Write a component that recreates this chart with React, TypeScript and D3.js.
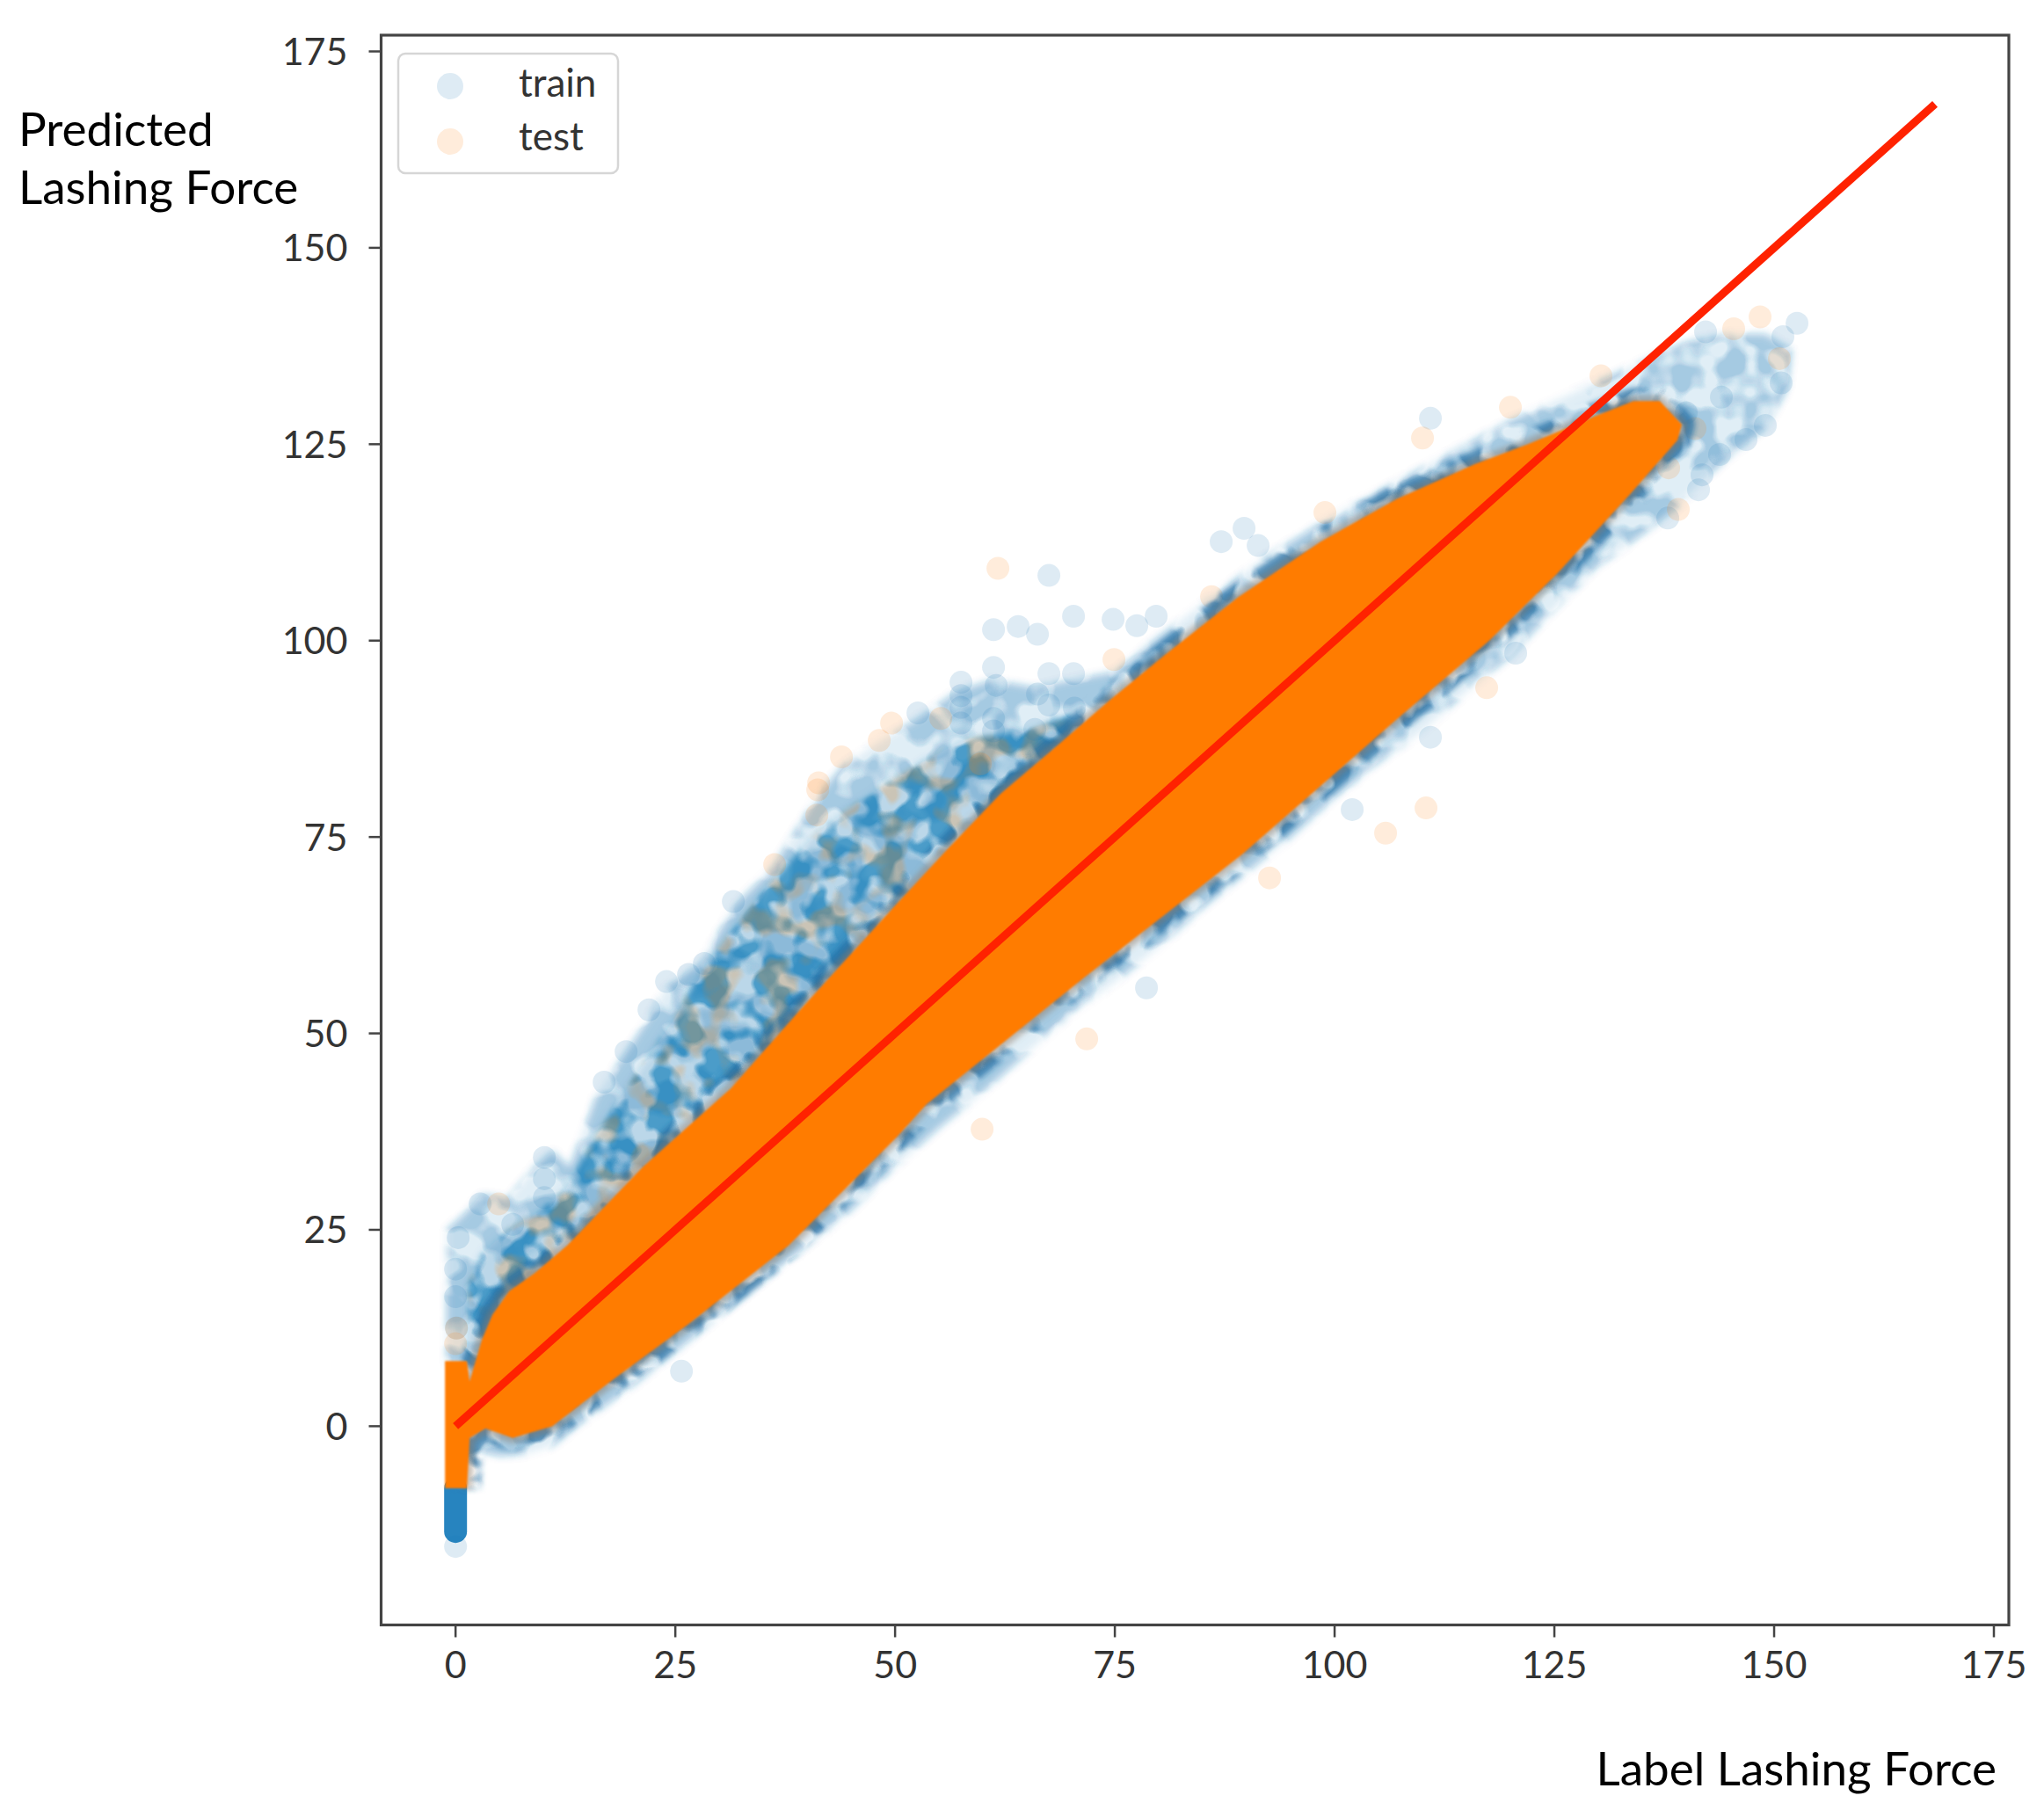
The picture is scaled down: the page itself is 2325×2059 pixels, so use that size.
import React from 'react';
import * as d3 from 'd3';

type Pt = [number, number];

const xTicks = [0, 25, 50, 75, 100, 125, 150, 175];
const yTicks = [0, 25, 50, 75, 100, 125, 150, 175];

// identity line drawn over the scatter
const fitLine: Pt[] = [[0, 0], [168.3, 168.3]];

// solid orange core of the cloud (outline)
const coreOutline: Pt[] = [
  [-1.2, -7.9], [-1.2, 8.3], [1.3, 8.3], [1.6, 5.7], [3, 11], [4.2, 14.2], [6.1, 17.2],
  [9, 19.5], [12.7, 23], [21.3, 33], [31.3, 43], [39.6, 53.5], [50.2, 66.5], [56, 73.5],
  [62, 80.5], [67.8, 86], [74.5, 92.5], [80.5, 98], [89, 105.5], [98.4, 112.6], [107, 118],
  [116, 122.5], [122, 125], [129.5, 128.5], [134, 130.5], [137, 130.5], [139.5, 127.5],
  [139, 125.5], [133.5, 118.5], [125.3, 108.5], [117.6, 100], [107.3, 90.2], [89.5, 72.8],
  [71.4, 57], [53.6, 41], [50.2, 36.8], [37.9, 23], [26.5, 13], [18, 6], [11, 0],
  [6.5, -1.5], [3.4, -0.3], [1.6, -1.5], [1.3, -7.9],
];

// outer envelope of the translucent train/test scatter
const fringeOutline: Pt[] = [
  [-1, 25], [1, 27], [3, 29.5], [6, 29], [9, 33], [11, 35], [13, 33], [16, 42], [19, 47],
  [22, 52], [24, 56], [28, 59], [31.5, 66], [36, 71], [41, 80], [44, 84], [48, 87],
  [52.5, 90], [57, 93.5], [61, 95], [66, 94], [70, 95], [75, 96], [80, 100.5], [86, 105.5],
  [92, 110.5], [100, 116], [105, 119], [110, 122], [115, 125], [120, 128], [125, 130.5],
  [130, 133], [135, 135.5], [140, 138], [145, 139], [149, 139], [152, 137], [151.5, 132],
  [149, 127], [145.5, 124], [142, 120.5], [139, 117], [135, 113.5], [130, 109.5],
  [125, 104], [120, 98], [115, 93.5], [110, 88.5], [105, 84.5], [100, 80], [95, 75],
  [90, 70.5], [85, 66], [80, 61], [75, 56.5], [70, 52.5], [65, 47.5], [60, 42.5],
  [55, 38], [50, 33], [45, 27.5], [40, 23], [35, 18.5], [30, 14], [25, 9.5], [20, 5],
  [15, 1], [11, -2.5], [8, -3.5], [5, -3.8], [2.5, -3.2], [1.3, -3], [1.2, 8], [-1, 8],
];

// denser blue plume above the core at low label values
const plumeOutline: Pt[] = [
  [1.5, 8], [3, 11], [4.2, 14.2], [6.1, 17.2], [9, 19.5], [12.7, 23], [21.3, 33],
  [31.3, 43], [39.6, 53.5], [50.2, 66.5], [56, 73.5], [62, 80.5], [67.8, 86], [70, 88.5],
  [70, 90.5], [66, 89], [62, 88], [58, 87.5], [53, 84.5], [48, 81], [44, 78],
  [41, 75.5], [35, 68], [31.3, 62.8], [28, 58], [24.7, 51.6], [21, 45.5], [18, 40.5],
  [15, 35], [12.4, 30], [9, 27], [6, 25], [3, 22], [1.5, 18],
];

// dense train points below the x = 0 column
const stripTrain: Pt[] = [[0, -13.4], [0, -7.9]];

const trainOutliers: Pt[] = [
  [0, -15.3], [2.8, 28.3], [10.1, 34.2], [10.1, 31.5], [10.1, 29.1], [0.3, 24], [6.5, 25.7],
  [0.1, 12.5], [0, 16.5], [0, 20], [25.7, 7.0], [16.9, 43.8], [19.4, 47.7], [24.0, 56.6],
  [28.3, 58.9], [31.6, 66.8], [22, 53], [26.5, 57.5], [67.5, 108.3], [70.3, 103.1],
  [74.8, 102.7], [61.2, 101.4], [64.0, 101.8], [66.2, 100.8], [61.2, 96.6], [61.5, 94.3],
  [57.5, 94.7], [57.5, 93], [57.5, 91.5], [57.5, 89.5], [52.6, 90.8], [61.2, 90.1],
  [61.2, 88.5], [67.5, 95.8], [70.3, 95.8], [66.2, 93.2], [67.5, 91.8], [70.4, 91.4],
  [65.9, 88.7], [77.5, 101.9], [79.7, 103.1], [87.1, 112.6], [89.7, 114.3], [91.3, 112.1],
  [110.9, 128.3], [110.9, 87.7], [102, 78.5], [78.6, 55.8], [120.6, 98.4], [152.6, 140.4],
  [151, 138.7], [150.8, 132.8], [149, 127.4], [146.8, 125.6], [143.8, 123.7], [141.8, 121.1],
  [141.4, 119.2], [137.9, 115.6], [142.2, 139.3], [144, 131], [140, 129], [136.5, 124],
];

const testOutliers: Pt[] = [
  [4.9, 28.3], [0.1, 12.5], [0, 10.5], [36.3, 71.5], [41.2, 81], [61.7, 109.2], [49.6, 89.5],
  [48.2, 87.3], [55.2, 90.1], [43.9, 85.2], [41.3, 81.9], [41.1, 77.8], [59.7, 84.3],
  [110, 125.8], [98.9, 116.3], [86, 105.6], [120, 129.7], [74.9, 97.6], [110.4, 78.7],
  [105.8, 75.5], [92.6, 69.8], [117.3, 94.0], [59.9, 37.8], [71.8, 49.3], [148.4, 141.2],
  [139.1, 116.7], [150.6, 135.9], [145.4, 139.7], [130.3, 133.7], [141, 127], [138, 122],
];

const BLUE = '#1f77b4';
const ORANGE = '#ff7f0e';
const FONT = 'Lato, "Open Sans", sans-serif';

const W = 2325;
const H = 2059;
const left = 433.5, right = 2285, top = 40, bottom = 1848.5;

// blotchy alpha mask, so a filled envelope reads like overlapping translucent dots
const Speckle: React.FC<{ id: string; freq: number; seed: number; blur: number; gain: number; bias: number }> =
  ({ id, freq, seed, blur, gain, bias }) => (
    <filter id={id} x="-5%" y="-5%" width="110%" height="110%">
      <feGaussianBlur in="SourceGraphic" stdDeviation={blur} result="soft" />
      <feTurbulence type="fractalNoise" baseFrequency={freq} numOctaves={2} seed={seed} result="noise" />
      <feColorMatrix in="noise" type="matrix"
        values={`0 0 0 0 0  0 0 0 0 0  0 0 0 0 0  ${gain} 0 0 0 ${bias}`} result="mask" />
      <feComposite in="soft" in2="mask" operator="in" />
    </filter>
  );

const App: React.FC = () => {
  const x = d3.scaleLinear().domain([-8.47, 176.7]).range([left, right]);
  const y = d3.scaleLinear().domain([-25.3, 177.07]).range([bottom, top]);

  const closed = d3.line<Pt>().x(d => x(d[0])).y(d => y(d[1])).curve(d3.curveLinearClosed);
  const line = d3.line<Pt>().x(d => x(d[0])).y(d => y(d[1]));
  const r = 13;

  const fringe = closed(fringeOutline) || '';
  const plume = closed(plumeOutline) || '';
  const core = closed(coreOutline) || '';
  // edge of the core without the x = 0 column
  const coreEdge = line(coreOutline.slice(3)) || '';

  return (
    <svg width={W} height={H} style={{ position: 'absolute', left: 0, top: 0, background: '#fff' }}>
      <defs>
        <clipPath id="plot">
          <rect x={left} y={top} width={right - left} height={bottom - top} />
        </clipPath>
        <Speckle id="spA" freq={0.03} seed={7} blur={4} gain={6} bias={-2.4} />
        <Speckle id="spB" freq={0.035} seed={21} blur={3} gain={6} bias={-2.6} />
        <Speckle id="spC" freq={0.03} seed={44} blur={3} gain={6} bias={-2.9} />
        <filter id="soft"><feGaussianBlur stdDeviation="5" /></filter>
        <filter id="edge"><feGaussianBlur stdDeviation="3" /></filter>
        <filter id="fine"><feGaussianBlur stdDeviation="1.2" /></filter>
      </defs>

      <g clipPath="url(#plot)">
        <path d={fringe} fill={BLUE} fillOpacity={0.12} filter="url(#soft)" />
        <path d={fringe} fill={BLUE} fillOpacity={0.3} filter="url(#spA)" />
        <path d={plume} fill={BLUE} fillOpacity={0.2} filter="url(#soft)" />
        <path d={plume} fill="#0a74b4" fillOpacity={0.6} filter="url(#spB)" />
        <path d={plume} fill={ORANGE} fillOpacity={0.22} filter="url(#spC)" />
        {trainOutliers.map((d, i) => (
          <circle key={'tr' + i} cx={x(d[0])} cy={y(d[1])} r={r} fill={BLUE} fillOpacity={0.15} />
        ))}
        {testOutliers.map((d, i) => (
          <circle key={'te' + i} cx={x(d[0])} cy={y(d[1])} r={r} fill={ORANGE} fillOpacity={0.15} />
        ))}
        <path d={line(stripTrain) || ''} stroke="#0f77b8" strokeWidth={r * 2} strokeLinecap="round"
          strokeOpacity={0.9} />
        <path d={coreEdge} fill="none" stroke="#1f6fa5" strokeOpacity={0.75}
          strokeWidth={30} strokeLinejoin="round" filter="url(#spB)" />
        <path d={coreEdge} fill="none" stroke="#8c735f" strokeOpacity={0.45}
          strokeWidth={12} strokeLinejoin="round" filter="url(#edge)" />
        <path d={core} fill="#ff7b02" filter="url(#fine)" />
        <path d={line(fitLine) || ''} stroke="#ff2200" strokeWidth={9} fill="none" />
      </g>

      <rect x={left} y={top} width={right - left} height={bottom - top} fill="none"
        stroke="#444" strokeWidth={3.2} />

      {xTicks.map(t => (
        <g key={'xt' + t} transform={`translate(${x(t)},${bottom})`}>
          <line y1={0} y2={14} stroke="#444" strokeWidth={2.5} />
          <text y={60} textAnchor="middle" fontFamily={FONT} fontSize={43} fill="#333">{t}</text>
        </g>
      ))}
      {yTicks.map(t => (
        <g key={'yt' + t} transform={`translate(${left},${y(t)})`}>
          <line x1={0} x2={-14} stroke="#444" strokeWidth={2.5} />
          <text x={-38} dy="0.36em" textAnchor="end" fontFamily={FONT} fontSize={43} fill="#333">{t}</text>
        </g>
      ))}

      <text x={21} y={166} fontFamily={FONT} fontSize={53} fill="#000">Predicted</text>
      <text x={21} y={232} fontFamily={FONT} fontSize={53} fill="#000">Lashing Force</text>
      <text x={2271} y={2031} textAnchor="end" fontFamily={FONT} fontSize={53} fill="#000">
        Label Lashing Force
      </text>

      <g>
        <rect x={453} y={61} width={250} height={136} rx={8} fill="#fff" fillOpacity={0.8}
          stroke="#d6d6d6" strokeWidth={2.5} />
        <circle cx={512} cy={98} r={15} fill={BLUE} fillOpacity={0.15} />
        <circle cx={512} cy={161} r={15} fill={ORANGE} fillOpacity={0.15} />
        <text x={590} y={110} fontFamily={FONT} fontSize={44} fill="#333">train</text>
        <text x={590} y={171} fontFamily={FONT} fontSize={44} fill="#333">test</text>
      </g>
    </svg>
  );
};

export default App;
